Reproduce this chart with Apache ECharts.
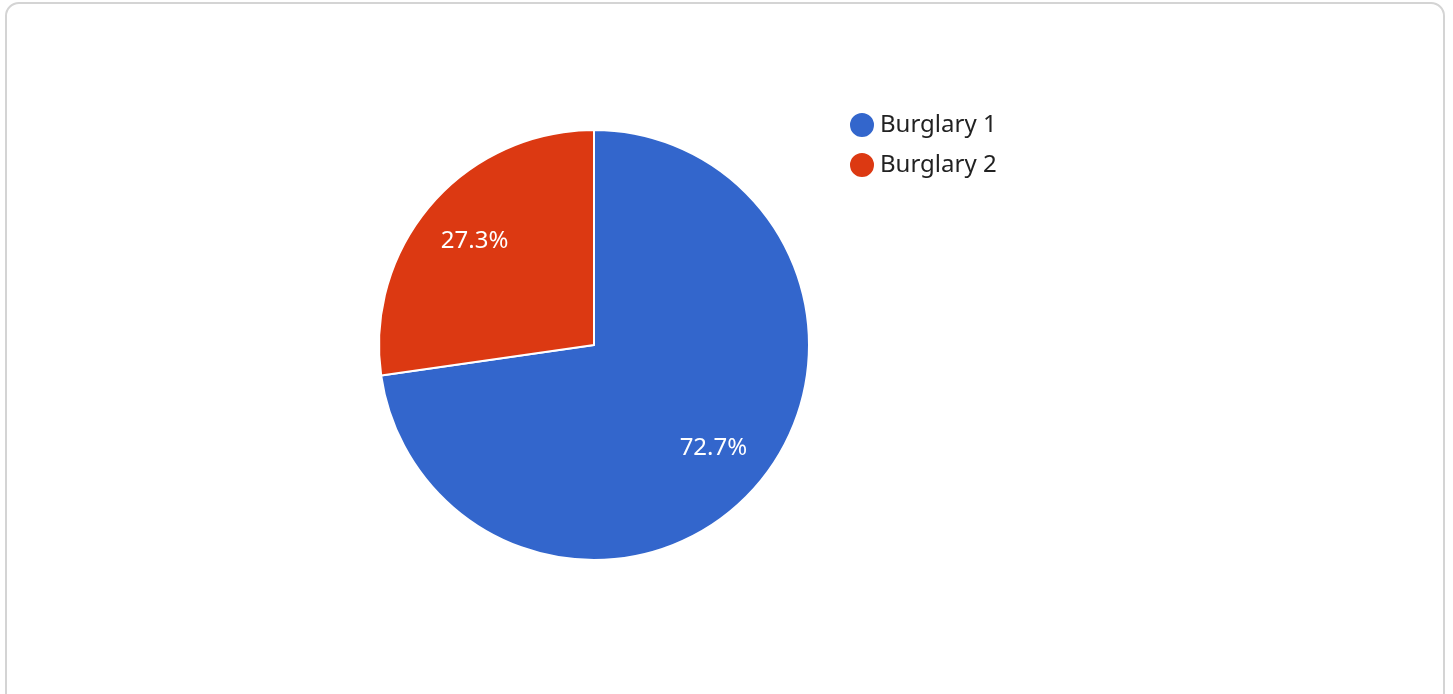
<!DOCTYPE html>
<html><head><meta charset="utf-8">
<script src="https://cdn.jsdelivr.net/npm/echarts@6/dist/echarts.min.js"></script>
<style>
html,body{margin:0;padding:0;background:#fff;width:1453px;height:694px;overflow:hidden;}
#frame{position:absolute;left:5px;top:2px;width:1440px;height:710px;border:2px solid #d4d4d4;border-radius:14px;box-sizing:border-box;}
#chart{position:absolute;left:0;top:0;width:1453px;height:694px;}
</style></head>
<body>
<div id="frame"></div>
<div id="chart"></div>
<script>
const categories = ['Burglary 1', 'Burglary 2'];
const values = [8, 3];
const colors = ['#3366cc', '#dc3912'];

const data = categories.map((c, i) => ({ name: c, value: values[i], itemStyle: { color: colors[i] } }));
const chart = echarts.init(document.getElementById('chart'), null, { renderer: 'canvas' });
chart.setOption({
  animation: false,
  textStyle: { fontFamily: 'Noto Sans' },
  legend: {
    orient: 'vertical', left: 843, top: 106,
    icon: 'circle', itemWidth: 26, itemHeight: 26, itemGap: 12, itemTextGap: 13,
    textStyle: { fontSize: 24, lineHeight: 28, color: '#222', fontFamily: 'Noto Sans' },
    data: categories
  },
  series: [
    {
      type: 'pie', center: [594, 345], radius: [0, 215], startAngle: 90, clockwise: true,
      data: data,
      itemStyle: { borderColor: '#fff', borderWidth: 2 },
      label: { show: false }, labelLine: { show: false },
      emphasis: { disabled: true }
    },
    {
      type: 'pie', center: [594, 345], radius: [95, 215], startAngle: 90, clockwise: true,
      silent: true,
      data: data.map(d => ({ name: d.name, value: d.value, itemStyle: { color: 'rgba(0,0,0,0)' } })),
      itemStyle: { borderWidth: 0 },
      label: { show: true, position: 'inside', color: '#fff', fontSize: 24, fontFamily: 'Noto Sans',
        formatter: p => p.percent.toFixed(1) + '%' },
      labelLine: { show: false },
      emphasis: { disabled: true },
      tooltip: { show: false }
    }
  ]
});
</script>
</body></html>
